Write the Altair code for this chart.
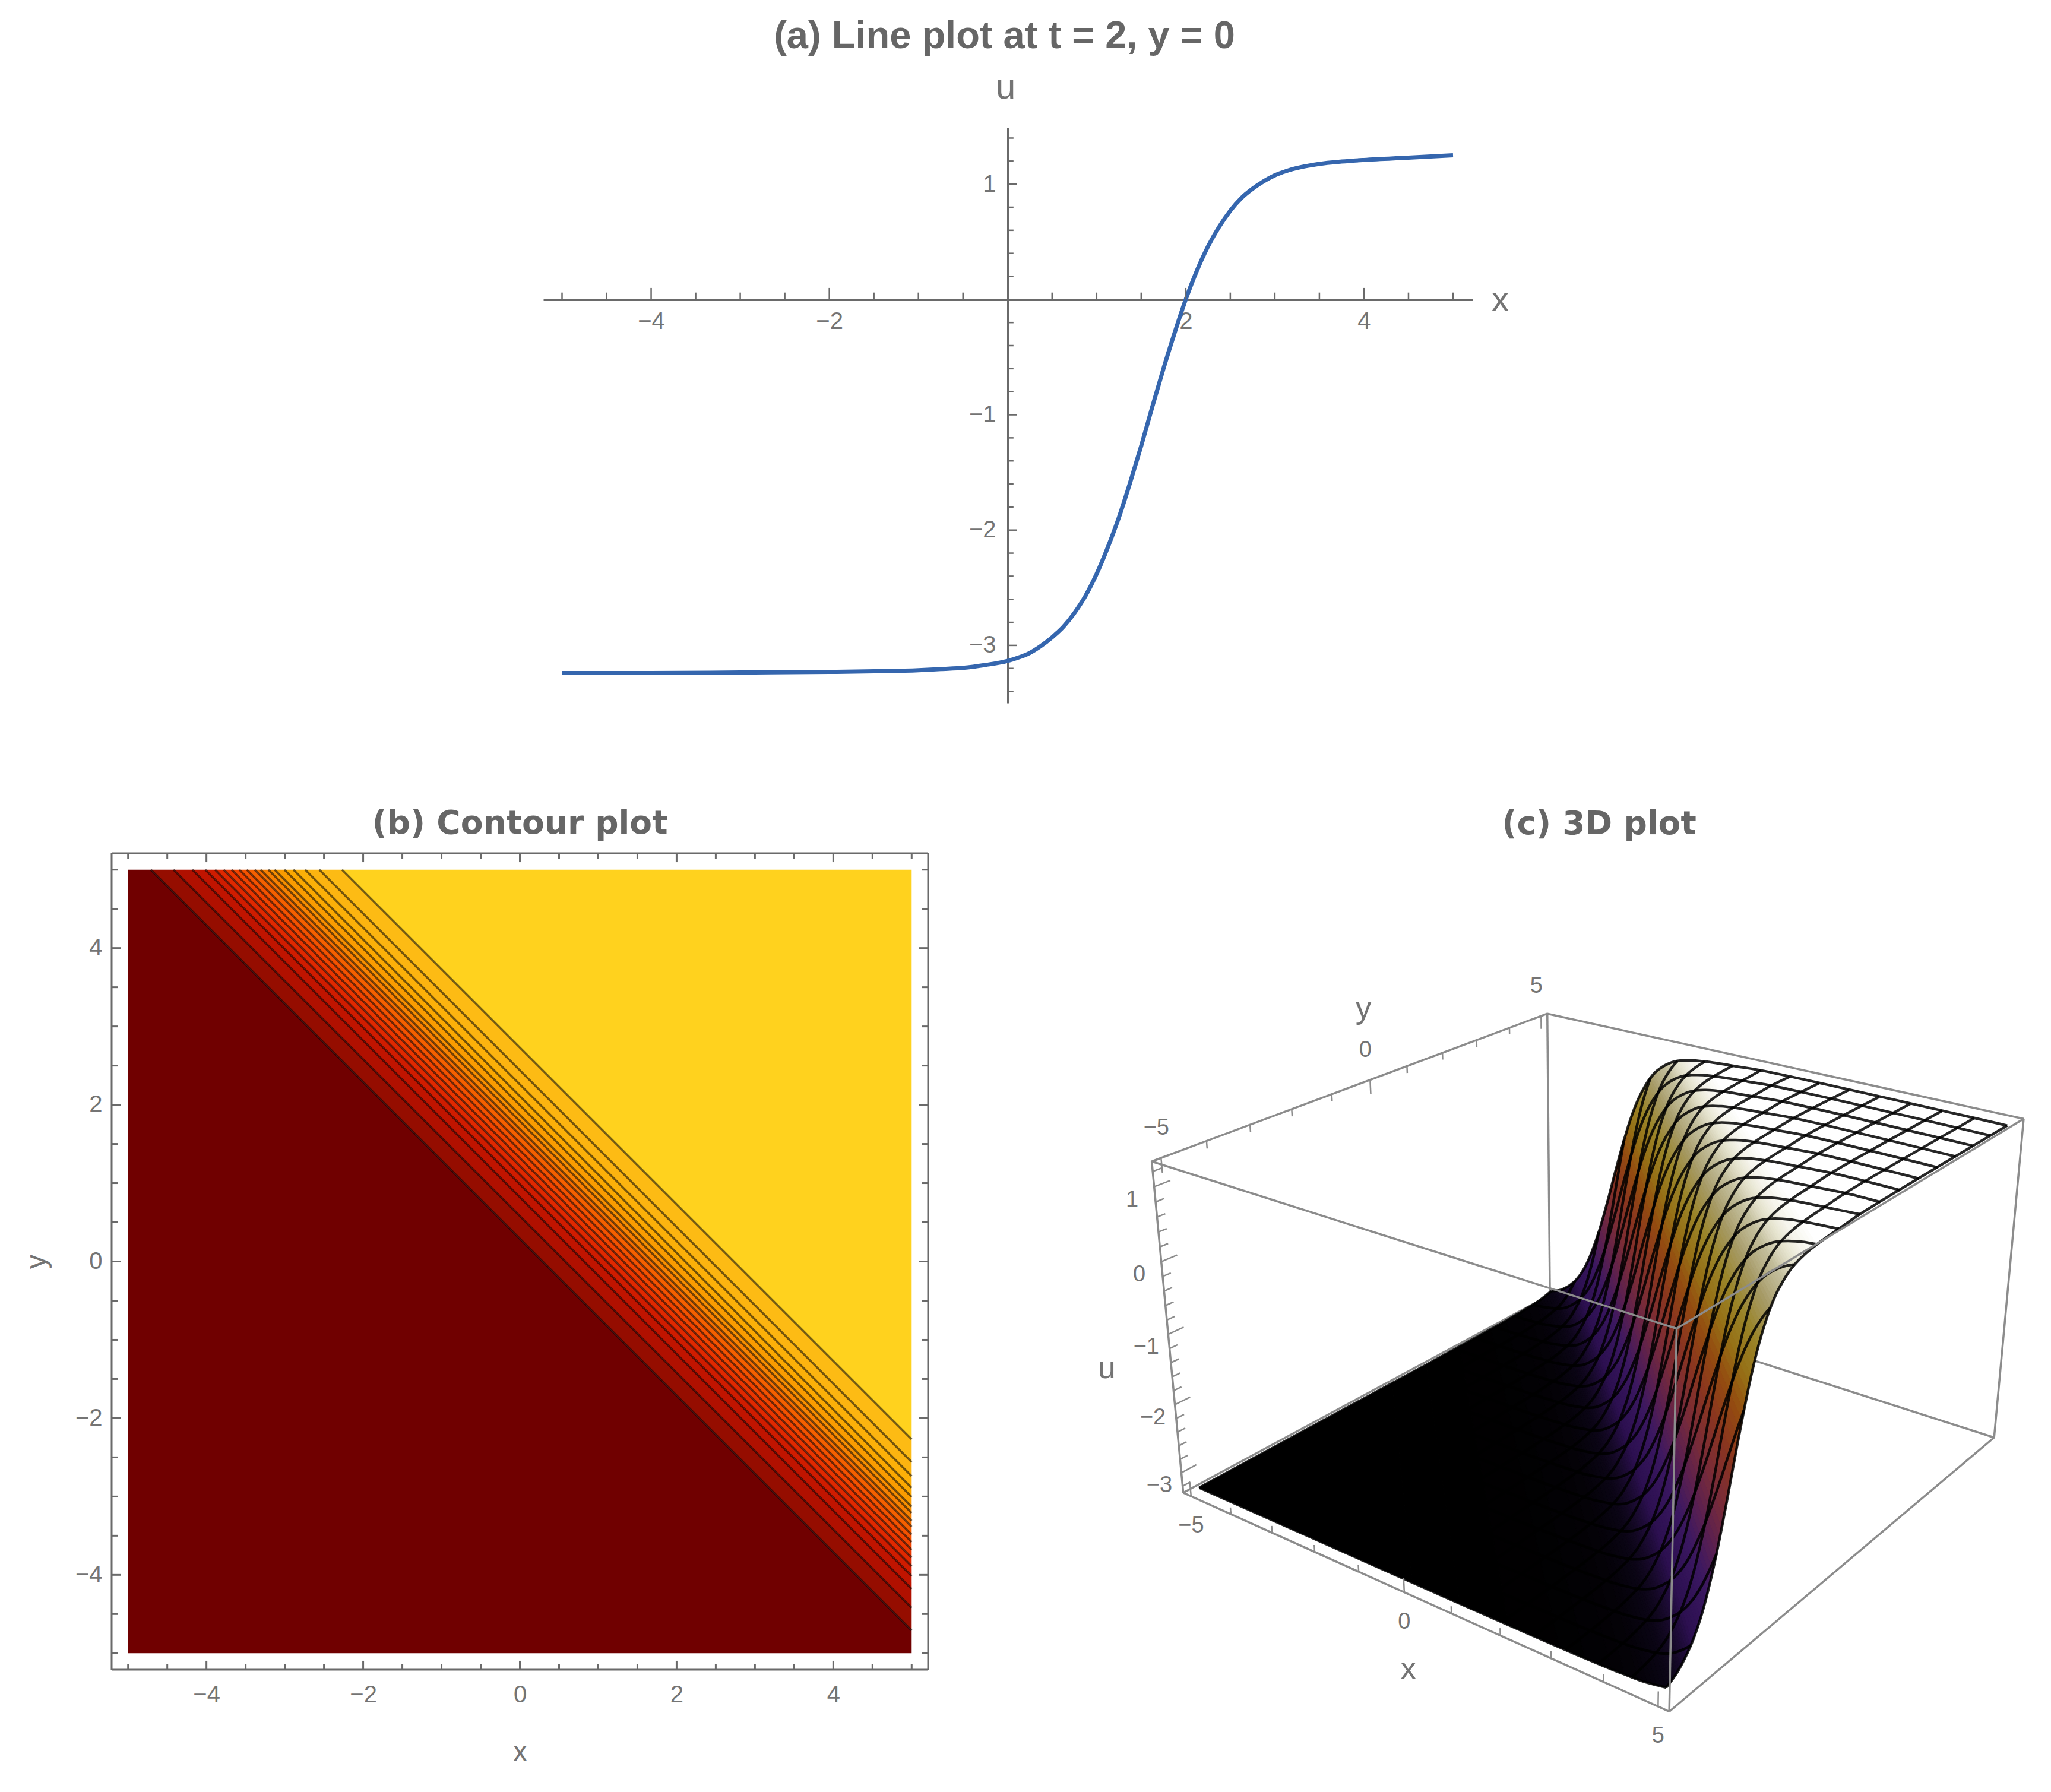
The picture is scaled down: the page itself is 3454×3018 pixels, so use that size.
import altair as alt
import numpy as np
import pandas as pd

# ---------- values ----------
S_READ = [-5, -4, -3, -2, -1.5, -1, -0.75, -0.5, -0.25, 0, 0.125, 0.25, 0.375, 0.5, 0.625, 0.75, 0.875, 1, 1.125,
          1.25, 1.375, 1.5, 1.625, 1.75, 1.875, 2, 2.125, 2.25, 2.375, 2.5, 2.625, 2.75, 2.875, 3, 3.125, 3.25,
          3.375, 3.5, 3.75, 4, 4.5, 5]
U_READ = [-3.24, -3.24, -3.235, -3.23, -3.225, -3.215, -3.205, -3.195, -3.17, -3.135, -3.105, -3.065, -3.005, -2.93,
          -2.84, -2.72, -2.57, -2.38, -2.15, -1.89, -1.59, -1.27, -0.93, -0.60, -0.29, 0.00, 0.25, 0.46, 0.63, 0.77,
          0.88, 0.96, 1.025, 1.077, 1.113, 1.14, 1.16, 1.176, 1.196, 1.21, 1.23, 1.25]

CONTOUR_C = [0.29, 0.58, 0.82, 0.985, 1.11, 1.22, 1.32, 1.42, 1.515, 1.615, 1.69, 1.79, 1.87, 1.995, 2.11, 2.26,
             2.44, 2.73]
BAND_COLORS = ["#700000", "#950D00", "#B01000", "#C01400", "#D01C00", "#E02800", "#EA3600", "#F04400", "#F45200",
               "#F56000", "#F77000", "#F88000", "#F99000", "#FA9C00", "#FBA800", "#FCB008", "#FCB410", "#FDBB14",
               "#FFD21E"]

SUNSET_U = [-3.24, -3.05, -2.8, -2.3, -1.9, -1.4, -0.9, -0.4, 0.0, 0.4, 0.75, 1.0, 1.12, 1.2, 1.3]
SUNSET_C = ["#000000", "#120822", "#2C1050", "#3B1862", "#5A2050", "#7A2C38", "#8A3520", "#944C10", "#967016",
            "#9A8428", "#A69A66", "#C2BD9B", "#E8E6D2", "#FFFFFF", "#FFFFFF"]

# perspective camera calibrated on the 8 corners of the box (page pixels)
BOX_X = [-5.2, 5.2]
BOX_Y = [-5.2, 5.2]
BOX_U = [-3.3, 1.33]
CORNERS = {  # (ix, iy, iu): screen position
    (0, 0, 1): (1938, 1957), (0, 1, 1): (2604, 1707), (1, 1, 1): (3408, 1884), (1, 0, 1): (2823, 2232),
    (0, 0, 0): (1992, 2515), (1, 0, 0): (2810, 2881), (1, 1, 0): (3356, 2423), (0, 1, 0): (2610, 2176),
}

GRAY = "#747474"
AXC = "#6a6a6a"
FONT = "Liberation Sans"

# ---------- panel (a) ----------
A_X = [-5.21, 5.22]
A_Y = [-3.50, 1.49]
line_df = pd.DataFrame({"x": S_READ, "u": U_READ})

atk = []
for v in np.arange(-5, 5.01, 0.5):
    if v != 0:
        atk.append(dict(x=v, x2=v, y=0, y2=0.10 if v in (-4, -2, 2, 4) else 0.06))
for v in np.arange(-3.4, 1.41, 0.2):
    v = round(float(v), 1)
    if v != 0:
        atk.append(dict(x=0, x2=0.105 if v == int(v) else 0.067, y=v, y2=v))
atk = pd.DataFrame(atk)

ax = alt.X("x:Q", scale=alt.Scale(domain=A_X, nice=False, zero=False),
           axis=alt.Axis(values=[-4, -2, 2, 4], format="d", offset=-679, ticks=False, title=None, grid=False,
                         domainColor=AXC, domainWidth=3, labelColor=GRAY, labelFontSize=40, labelFont=FONT,
                         labelPadding=16, labelBound=False, labelFlush=False))
ay = alt.Y("u:Q", scale=alt.Scale(domain=A_Y, nice=False, zero=False),
           axis=alt.Axis(values=[1, -1, -2, -3], format="d", offset=-782, ticks=False, title=None, grid=False,
                         domainColor=AXC, domainWidth=3, labelColor=GRAY, labelFontSize=40, labelFont=FONT,
                         labelPadding=20, labelBound=False, labelFlush=False))
a_line = alt.Chart(line_df).mark_line(color="#3566AE", strokeWidth=7, interpolate="monotone", clip=False).encode(x=ax, y=ay)
a_ticks = alt.Chart(atk).mark_rule(color=AXC, strokeWidth=2.5).encode(
    x=alt.X("x:Q"), x2="x2:Q", y=alt.Y("y:Q"), y2="y2:Q")
a_lab = alt.Chart(pd.DataFrame({"x": [5.53, -0.02], "y": [-0.01, 1.835], "t": ["x", "u"]})).mark_text(
    color=GRAY, fontSize=60, font=FONT, baseline="middle", align="center").encode(x="x:Q", y="y:Q", text="t:N")
panel_a = alt.layer(a_line, a_ticks, a_lab).properties(
    width=1565, height=969,
    title=alt.TitleParams("(a) Line plot at t = 2, y = 0", font=FONT, fontSize=65, fontWeight="bold", color="#666666",
                          offset=23, dx=-6))

# ---------- panel (b) ----------
R = [-5.21, 5.21]
band_rows = []
edges = [None] + CONTOUR_C + [None]
for i in range(len(BAND_COLORS)):
    lo, hi = edges[i], edges[i + 1]
    xs = [-5.0, 5.0]
    if lo is not None:
        xs = [lo - 5, 5.0]
    if hi is not None:
        xs.append(hi - 5)
    for v in sorted(set(xs)):
        top = 5.0 if hi is None else min(5.0, hi - v)
        bot = -5.0 if lo is None else max(-5.0, lo - v)
        band_rows.append(dict(x=v, top=top, bot=bot, band=i))
band_df = pd.DataFrame(band_rows)
cont_df = pd.DataFrame([dict(x=c - 5, y=5.0, x2=5.0, y2=c - 5) for c in CONTOUR_C])

btk = []
for v in np.arange(-5, 5.01, 0.5):
    L = 0.114 if v in (-4, -2, 0, 2, 4) else 0.076
    btk += [dict(x=v, x2=v, y=R[0], y2=R[0] + L), dict(x=v, x2=v, y=R[1], y2=R[1] - L),
            dict(x=R[0], x2=R[0] + L, y=v, y2=v), dict(x=R[1], x2=R[1] - L, y=v, y2=v)]
btk += [dict(x=R[0], x2=R[1], y=R[0], y2=R[0]), dict(x=R[0], x2=R[1], y=R[1], y2=R[1]),
        dict(x=R[0], x2=R[0], y=R[0], y2=R[1]), dict(x=R[1], x2=R[1], y=R[0], y2=R[1])]
btk = pd.DataFrame(btk)

def b_axis(title, lp, tp):
    return alt.Axis(values=[-4, -2, 0, 2, 4], format="d", ticks=False, domain=False, grid=False, title=title,
                    titleColor=GRAY, titleFontSize=48, titleFont=FONT, titleFontWeight="normal", titlePadding=tp,
                    labelColor=GRAY, labelFontSize=40, labelFont=FONT, labelPadding=lp, labelBound=False,
                    labelFlush=False)

b_x = alt.Scale(domain=R, nice=False, zero=False)
b_area = alt.Chart(band_df).mark_area(interpolate="linear").encode(
    x=alt.X("x:Q", scale=b_x, axis=b_axis("x", 22, 53)), y=alt.Y("top:Q", scale=b_x, axis=b_axis("y", 16, 40)), y2="bot:Q",
    color=alt.Color("band:O", scale=alt.Scale(domain=list(range(len(BAND_COLORS))), range=BAND_COLORS), legend=None))
b_cont = alt.Chart(cont_df).mark_rule(color="#000000", strokeWidth=3.5, opacity=0.55).encode(
    x=alt.X("x:Q"), x2="x2:Q", y=alt.Y("y:Q"), y2="y2:Q")
b_ticks = alt.Chart(btk).mark_rule(color=AXC, strokeWidth=3).encode(
    x=alt.X("x:Q"), x2="x2:Q", y=alt.Y("y:Q"), y2="y2:Q")
panel_b = alt.layer(b_area, b_cont, b_ticks).resolve_scale(color="independent").properties(
    width=1375, height=1375,
    title=alt.TitleParams("(b) Contour plot", font="DejaVu Sans", fontSize=55, fontWeight="bold", color="#666666",
                          offset=20))

# ---------- panel (c) ----------
OX, OY, CW, CH = 1950, 1436, 1484, 1560
A_rows, b_rows = [], []
for (ix, iy, iu), (sx, sy) in CORNERS.items():
    X = [BOX_X[ix], BOX_Y[iy], BOX_U[iu], 1.0]
    A_rows.append(X + [0, 0, 0, 0] + [-sx * c for c in X])
    A_rows.append([0, 0, 0, 0] + X + [-sy * c for c in X])
_, _, vt = np.linalg.svd(np.array(A_rows, dtype=float))
P = vt[-1].reshape(3, 4)

def proj(x, y, u):
    h = P @ np.array([x, y, u, 1.0])
    return float(h[0] / h[2] - OX), float(h[1] / h[2] - OY)

def hex2rgb(c):
    return [int(c[i:i + 2], 16) for i in (1, 3, 5)]

SUN_RGB = np.array([hex2rgb(c) for c in SUNSET_C], dtype=float)

def sunset(u):
    return "#%02x%02x%02x" % tuple(int(round(np.interp(u, SUNSET_U, SUN_RGB[:, k]))) for k in range(3))

S_FULL = [-10.0] + [float(s) for s in S_READ] + [10.0]
U_FULL = [U_READ[0]] + U_READ + [U_READ[-1]]

def iso_ends(s):
    if s <= 0:
        return (-5.0, s + 5.0), (s + 5.0, -5.0)
    return (s - 5.0, 5.0), (5.0, s - 5.0)

features = []
for j in range(len(S_FULL) - 1):
    s0, s1, u0, u1 = S_FULL[j], S_FULL[j + 1], U_FULL[j], U_FULL[j + 1]
    n = 3 if abs(u1 - u0) > 0.02 else 1
    for k in range(n):
        a0, a1 = k / n, (k + 1) / n
        sa, sb = s0 + (s1 - s0) * a0, s0 + (s1 - s0) * a1
        ua, ub = u0 + (u1 - u0) * a0, u0 + (u1 - u0) * a1
        (p, q), (r, t) = iso_ends(sa), iso_ends(sb)
        ring = [proj(p[0], p[1], ua), proj(q[0], q[1], ua), proj(t[0], t[1], ub), proj(r[0], r[1], ub)]
        ring.append(ring[0])
        features.append({"type": "Feature", "properties": {"c": sunset((ua + ub) / 2)},
                         "geometry": {"type": "Polygon", "coordinates": [[list(v) for v in ring]]}})

surface = alt.Chart(alt.InlineData(values=features, format=alt.DataFormat(type="json"))).mark_geoshape(
    strokeWidth=1.2).encode(fill=alt.Fill("properties.c:N", scale=None), stroke=alt.Stroke("properties.c:N", scale=None)
    ).project(type="identity", scale=1, translate=[0, 0])

mesh_rows = []
for i in range(17):
    m = -5 + 10 * i / 16
    sv = [m - 5] + [s for s in S_READ if m - 5 < s < m + 5] + [m + 5]
    for n_, s in enumerate(sv):
        uv = float(np.interp(s, S_READ, U_READ))
        px, py = proj(m, s - m, uv)
        mesh_rows.append(dict(id=f"x{i}", n=n_, px=px, py=py))
        px, py = proj(s - m, m, uv)
        mesh_rows.append(dict(id=f"y{i}", n=n_, px=px, py=py))
mesh_df = pd.DataFrame(mesh_rows)

cx = alt.Scale(domain=[0, CW], nice=False, zero=False)
cy = alt.Scale(domain=[CH, 0], nice=False, zero=False)
XE = alt.X("px:Q", scale=cx, axis=None)
YE = alt.Y("py:Q", scale=cy, axis=None)
mesh = alt.Chart(mesh_df).mark_line(color="#000000", strokeWidth=4.5, opacity=0.85, interpolate="catmull-rom").encode(
    x=XE, y=YE, detail="id:N", order="n:Q")

def edge_df(pairs):
    rows = []
    for a, b in pairs:
        p0 = proj(BOX_X[a[0]], BOX_Y[a[1]], BOX_U[a[2]])
        p1 = proj(BOX_X[b[0]], BOX_Y[b[1]], BOX_U[b[2]])
        rows.append(dict(px=p0[0], py=p0[1], qx=p1[0], qy=p1[1]))
    return pd.DataFrame(rows)

BACK = [((0, 1, 1), (0, 1, 0)), ((0, 1, 0), (0, 0, 0)), ((0, 1, 0), (1, 1, 0)), ((0, 1, 1), (1, 1, 1))]
FRONT = [((0, 0, 1), (0, 1, 1)), ((0, 0, 1), (1, 0, 1)), ((1, 0, 1), (1, 1, 1)), ((1, 0, 1), (1, 0, 0)),
         ((0, 0, 1), (0, 0, 0)), ((0, 0, 0), (1, 0, 0)), ((1, 0, 0), (1, 1, 0)), ((1, 1, 1), (1, 1, 0))]
BOXC = "#8c8c8c"
back = alt.Chart(edge_df(BACK)).mark_rule(color=BOXC, strokeWidth=3.5).encode(x=XE, x2="qx:Q", y=YE, y2="qy:Q")
front = alt.Chart(edge_df(FRONT)).mark_rule(color=BOXC, strokeWidth=3.5).encode(x=XE, x2="qx:Q", y=YE, y2="qy:Q")

tk3 = []
def seg(a, b):
    p, q = proj(*a), proj(*b)
    tk3.append(dict(px=p[0], py=p[1], qx=q[0], qy=q[1]))
for v in range(-5, 6):
    L = 0.2 if v in (-5, 0, 5) else 0.1
    seg((v, BOX_Y[0], BOX_U[0]), (v, BOX_Y[0], BOX_U[0] + L))
    seg((BOX_X[0], v, BOX_U[1]), (BOX_X[0], v, BOX_U[1] - L))
for v in np.arange(-3.2, 1.21, 0.2):
    v = round(float(v), 1)
    seg((BOX_X[0], BOX_Y[0], v), (BOX_X[0], BOX_Y[0] + (0.35 if v == int(v) else 0.18), v))
ticks3 = alt.Chart(pd.DataFrame(tk3)).mark_rule(color=BOXC, strokeWidth=2.5).encode(x=XE, x2="qx:Q", y=YE, y2="qy:Q")

def labels(points, texts, dx, dy, size=38):
    rows = [dict(px=proj(*p)[0], py=proj(*p)[1], t=t) for p, t in zip(points, texts)]
    return alt.Chart(pd.DataFrame(rows)).mark_text(
        color=GRAY, fontSize=size, font=FONT, dx=dx, dy=dy, baseline="middle", align="center").encode(
        x=XE, y=YE, text="t:N")

X_TICKS = [-5, 0, 5]
Y_TICKS = [-5, 0, 5]
U_TICKS = [1, 0, -1, -2, -3]
fmt = lambda v: str(v).replace("-", "\u2212")
l_x = labels([(v, BOX_Y[0], BOX_U[0]) for v in X_TICKS], [fmt(v) for v in X_TICKS], 0, 50)
l_y = labels([(BOX_X[0], v, BOX_U[1]) for v in Y_TICKS], [fmt(v) for v in Y_TICKS], -8, -50)
l_u = labels([(BOX_X[0], BOX_Y[0], v) for v in U_TICKS], [fmt(v) for v in U_TICKS], -37, 22)
t_x = labels([(0, BOX_Y[0], BOX_U[0])], ["x"], 7, 130, 54)
t_y = labels([(BOX_X[0], 0, BOX_U[1])], ["y"], -11, -120, 54)
t_u = labels([(BOX_X[0], BOX_Y[0], -1.3)], ["u"], -107, 22, 54)

panel_c = alt.layer(back, surface, mesh, front, ticks3, l_x, l_y, l_u, t_x, t_y, t_u).properties(
    width=CW, height=CH,
    title=alt.TitleParams("(c) 3D plot", font="DejaVu Sans", fontSize=55, fontWeight="bold", color="#666666", offset=20))

# ---------- layout ----------
spacer = alt.Chart(pd.DataFrame({"v": [0]})).mark_point(opacity=0).encode(
    x=alt.X("v:Q", axis=None), y=alt.Y("v:Q", axis=None)).properties(width=727, height=969)
top = alt.hconcat(spacer, panel_a, spacing=0, bounds="flush")
bottom = alt.hconcat(panel_b, panel_c, spacing=388, bounds="flush")
chart = alt.vconcat(top, bottom, spacing=1222, bounds="flush").properties(
    padding={"left": 30, "top": 21, "right": 0, "bottom": 0}, background="white").configure_view(stroke=None)

chart.save("out.html", embed_options={"renderer": "svg", "actions": False})
